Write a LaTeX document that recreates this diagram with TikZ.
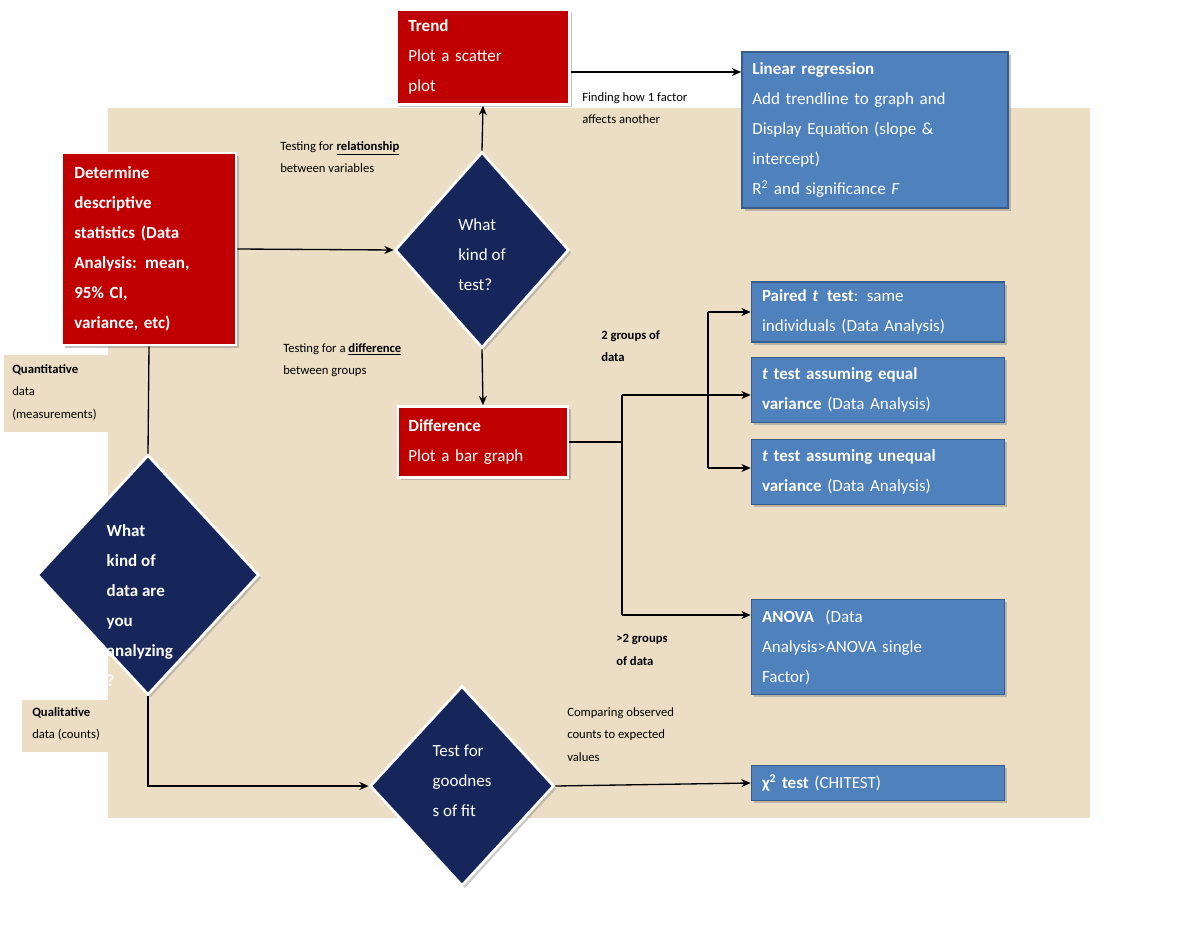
\documentclass[tikz,border=0pt]{standalone}
\usepackage{fontspec}
\setmainfont{Carlito}
\usetikzlibrary{shapes.geometric,shadows,arrows.meta}
\definecolor{rd}{RGB}{192,0,0}
\definecolor{bl}{RGB}{79,129,189}
\definecolor{bld}{RGB}{56,93,138}
\definecolor{nv}{RGB}{22,38,90}
\definecolor{parch}{RGB}{236,222,196}
\begin{document}
\begin{tikzpicture}[x=0.75pt,y=-0.75pt,
  box/.style={rectangle,inner sep=0pt,text=white,align=left,font=\fontsize{12.75}{22.5}\selectfont,drop shadow={opacity=0.45,shadow xshift=2pt,shadow yshift=-2pt}},
  redbox/.style={box,fill=rd,draw=white,line width=2pt},
  bluebox/.style={box,fill=bl,draw=bld,line width=1.2pt},
  dia/.style={diamond,inner sep=0pt,fill=nv,draw=white,line width=2pt,drop shadow={opacity=0.4,shadow xshift=2pt,shadow yshift=-2pt}},
  dtext/.style={text=white,align=left,font=\fontsize{12.75}{22.5}\selectfont},
  lbl/.style={align=left,anchor=north west,inner sep=0pt,font=\fontsize{9.5}{17}\selectfont},
  arr/.style={-{Stealth[length=7pt,width=6pt]},line width=1pt},
  ln/.style={line width=1pt}]
\useasboundingbox (0,0) rectangle (1200,927);
\fill[white] (0,0) rectangle (1200,927);
\fill[parch] (108,108) rectangle (1090,818);
\fill[parch] (4,355) rectangle (126,432);
\fill[parch] (22,700) rectangle (126,752);

\node[redbox,minimum width=130.5pt,minimum height=144pt,text width=112pt] (det) at (149,249) {\bfseries Determine\\descriptive\\statistics (Data\\Analysis: mean,\\95\% CI,\\variance, etc)};
\node[redbox,minimum width=129.75pt,minimum height=71.25pt,text width=112pt] (trend) at (483,57) {\textbf{Trend}\\Plot a scatter\\plot};
\node[redbox,minimum width=127.5pt,minimum height=53.25pt,text width=112pt] (diff) at (483,442) {\textbf{Difference}\\Plot a bar graph};

\node[bluebox,minimum width=199.5pt,minimum height=117pt,text width=184pt] (lin) at (875,130) {\textbf{Linear regression}\\Add trendline to graph and\\Display Equation (slope \&\\intercept)\\R\textsuperscript{2} and significance \textit{F}};
\node[bluebox,minimum width=189.75pt,minimum height=45pt,text width=174pt] (pair) at (878,312) {\textbf{Paired \textit{t}\, test}: same\\individuals (Data Analysis)};
\node[bluebox,minimum width=189.75pt,minimum height=48.75pt,text width=174pt] (eq) at (878,390) {\textbf{\textit{t} test assuming equal}\\\textbf{variance} (Data Analysis)};
\node[bluebox,minimum width=189.75pt,minimum height=48.75pt,text width=174pt] (uneq) at (878,472) {\textbf{\textit{t} test assuming unequal}\\\textbf{variance} (Data Analysis)};
\node[bluebox,minimum width=189.75pt,minimum height=71.25pt,text width=174pt] (anova) at (878,647) {\textbf{ANOVA}\ \ (Data\\Analysis>ANOVA single\\Factor)};
\node[bluebox,minimum width=189.75pt,minimum height=26.25pt,text width=174pt] (chi) at (878,783) {\textbf{χ\textsuperscript{2} test} (CHITEST)};

\node[dia,minimum width=130.5pt,minimum height=147pt] (test) at (482,250) {};
\node[dtext] at (482,255) {What\\kind of\\test?};
\node[dia,minimum width=166.5pt,minimum height=180pt] (data) at (148,575) {};
\node[dtext,font=\bfseries\fontsize{12.75}{22.5}\selectfont,anchor=north west] at (102,520) {What\\kind of\\data are\\you\\analyzing\\?};
\node[dia,minimum width=138pt,minimum height=150pt] (good) at (462,786) {};
\node[dtext,anchor=north west] at (428,740) {Test for\\goodnes\\s of fit};

\draw[arr] (det.east) -- (test.west);
\draw[arr] (test.north) -- (trend.south);
\coordinate (t1) at ([yshift=-11.25pt]trend.east);
\draw[arr] (t1) -- (t1 -| lin.west);
\draw[arr] (test.south) -- (diff.north);
\coordinate (jt) at (622,395);
\coordinate (jb) at (622,615);
\draw[ln] (diff.east) -- (diff.east -| jt);
\draw[ln] (jt) -- (jb);
\draw[arr] (jb) -- (jb -| anova.west);
\coordinate (k) at (708,395);
\coordinate (k1) at (708,312);
\coordinate (k2) at (708,468);
\draw[ln] (jt) -- (k);
\draw[ln] (k1) -- (k2);
\draw[arr] (k1) -- (k1 -| pair.west);
\draw[arr] (k) -- (k -| eq.west);
\draw[arr] (k2) -- (k2 -| uneq.west);
\draw[ln] (det.south) -- (data.north);
\draw[arr] (data.south) |- (good.west);
\draw[arr] (good.east) -- (chi.west);

\node[lbl] (l1) at (280,141) {Testing for \textbf{\underline{relationship}}\\between variables};
\node[lbl] (l2) at (582,92) {Finding how 1 factor\\affects another};
\node[lbl] (l3) at (283,343) {Testing for a \textbf{\underline{difference}}\\between groups};
\node[lbl,font=\bfseries\fontsize{9.5}{17}\selectfont] (l4) at (601,330) {2 groups of\\data};
\node[lbl,font=\bfseries\fontsize{9.5}{17}\selectfont] (l5) at (616,634) {>2 groups\\of data};
\node[lbl] (l6) at (567,707) {Comparing observed\\counts to expected\\values};
\node[lbl] (l7) at (12,364) {\textbf{Quantitative}\\data\\(measurements)};
\node[lbl] (l8) at (32,707) {\textbf{Qualitative}\\data (counts)};
\end{tikzpicture}
\end{document}
